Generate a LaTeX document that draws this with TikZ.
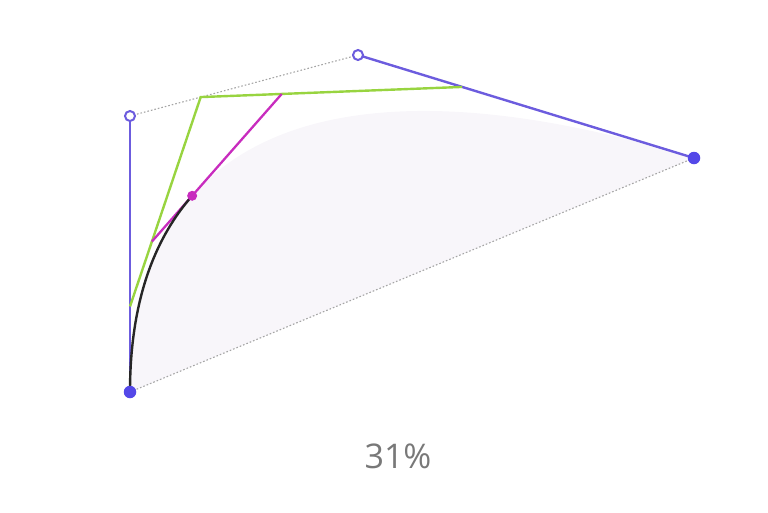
\documentclass[tikz,border=0pt]{standalone}
\usepackage{fontspec}
\setmainfont{Open Sans}
\usetikzlibrary{calc}
\definecolor{ctrlblue}{RGB}{108,92,222}
\definecolor{endblue}{RGB}{84,72,232}
\definecolor{lgreen}{RGB}{152,212,64}
\definecolor{lmag}{RGB}{200,44,190}
\definecolor{lfill}{RGB}{248,246,250}
\definecolor{dotgray}{RGB}{165,165,165}
\definecolor{txtgray}{RGB}{120,120,120}
\tikzset{
  hull/.style={dotgray, line width=1.1pt, dash pattern=on 1.6pt off 2pt},
  ctrlline/.style={ctrlblue, line width=2.4pt},
  lvl1/.style={lgreen, line width=2.4pt},
  lvl2/.style={lmag, line width=2.3pt},
  curveline/.style={black!85, line width=2.4pt},
  endpt/.style={circle, fill=endblue, inner sep=0pt, minimum size=12.5pt},
  ctrlpt/.style={circle, draw=ctrlblue, fill=white, line width=2pt, inner sep=0pt, minimum size=10pt},
  midpt/.style={circle, fill=lmag, inner sep=0pt, minimum size=10pt},
  pct/.style={font=\fontsize{34}{40}\selectfont, text=txtgray}
}
\begin{document}
\begin{tikzpicture}[x=1pt,y=-1pt]
\useasboundingbox (0,0) rectangle (768,512);
\coordinate (P0) at (130,392);
\coordinate (P1) at (130,116);
\coordinate (P2) at (358,55);
\coordinate (P3) at (694,158);
\def\tt{0.31}
\coordinate (Q0) at ($(P0)!\tt!(P1)$);
\coordinate (Q1) at ($(P1)!\tt!(P2)$);
\coordinate (Q2) at ($(P2)!\tt!(P3)$);
\coordinate (R0) at ($(Q0)!\tt!(Q1)$);
\coordinate (R1) at ($(Q1)!\tt!(Q2)$);
\coordinate (S) at ($(R0)!\tt!(R1)$);
% filled full curve
\fill[lfill] (P0) .. controls (P1) and (P2) .. (P3) -- cycle;
% hull dotted
\draw[hull] (P1) -- (P2);
\draw[hull] (P0) -- (P3);
% control lines
\draw[ctrlline] (P0) -- (P1);
\draw[ctrlline] (P2) -- (P3);
% first level
\draw[lvl1] (Q0) -- (Q1) -- (Q2);
% second level
\draw[lvl2] (R0) -- (R1);
% partial curve
\draw[curveline] (P0) .. controls (Q0) and (R0) .. (S);
% points
\node[endpt] (n0) at (P0) {};
\node[endpt] (n3) at (P3) {};
\node[ctrlpt] (n1) at (P1) {};
\node[ctrlpt] (n2) at (P2) {};
\node[midpt] (ns) at (S) {};
\node[pct] (label) at (398,456) {31\%};
\end{tikzpicture}
\end{document}
